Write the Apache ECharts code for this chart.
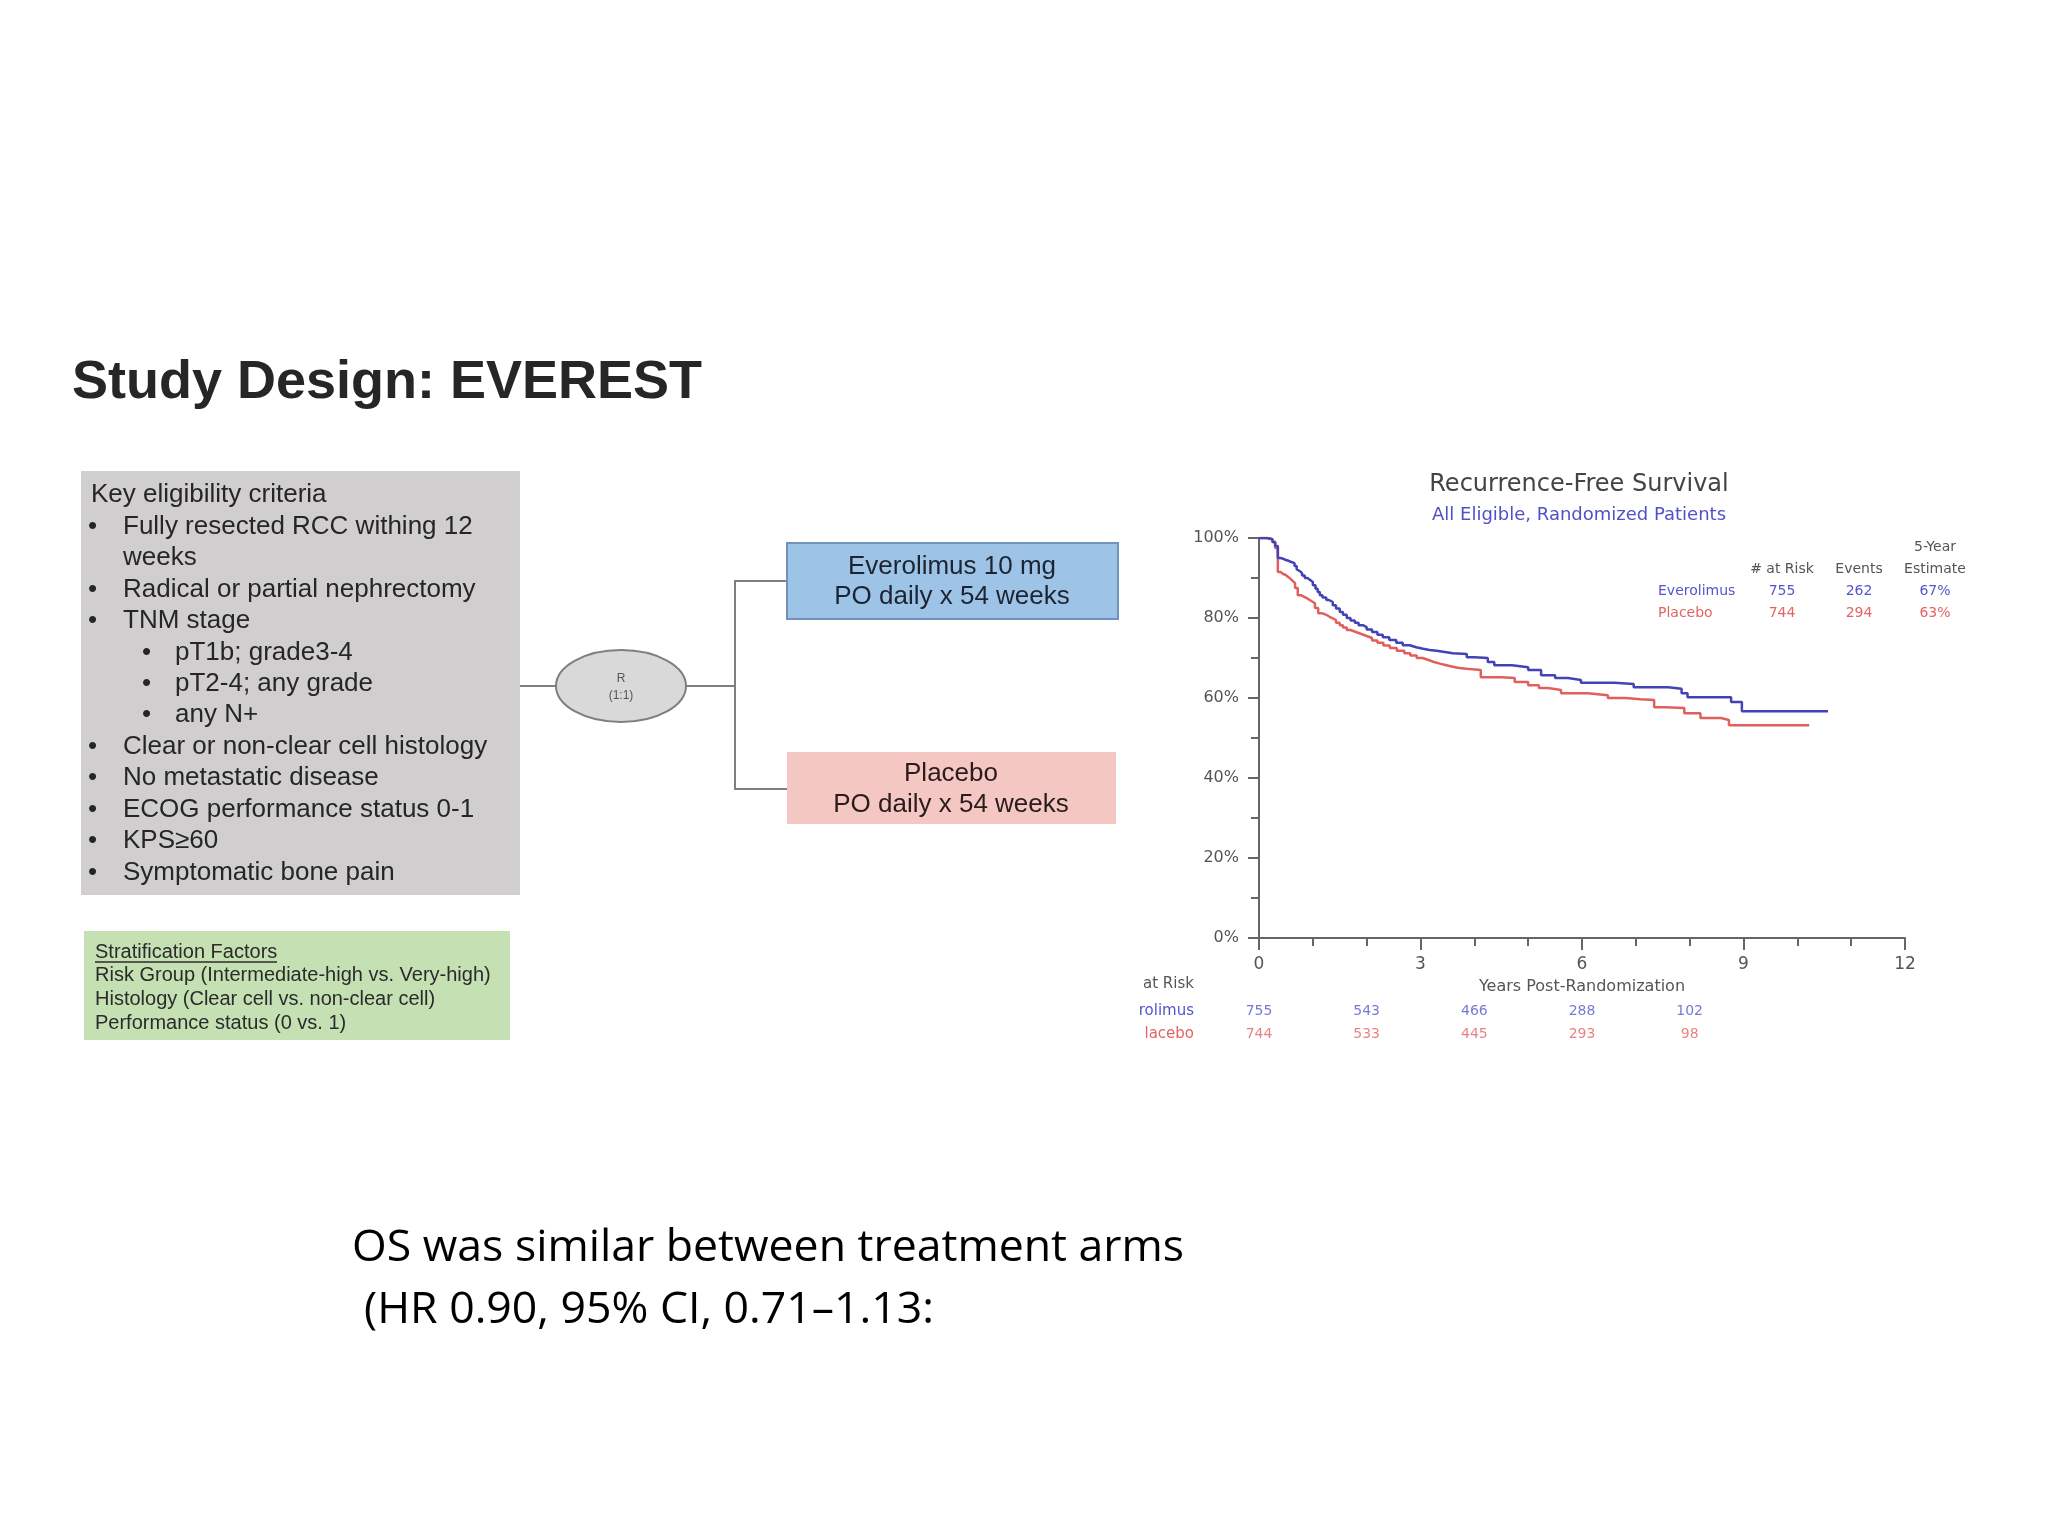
<!DOCTYPE html>
<html>
<head>
<meta charset="utf-8">
<title>Study Design: EVEREST</title>
<script src="https://cdn.jsdelivr.net/npm/echarts@6/dist/echarts.min.js"></script>
<style>
  html, body { margin: 0; padding: 0; background: #fff; }
  #main { width: 2048px; height: 1536px; }
</style>
</head>
<body>
<div id="main"></div>
<script>
// recurrence-free survival: [years, %]
const everolimusRFS = [
  [0, 100], [0.15, 99.7], [0.25, 99], [0.3, 98], [0.35, 95], [0.4, 94.8],
  [0.45, 94.5], [0.5, 94.3], [0.55, 94], [0.6, 93.7], [0.66, 93], [0.7, 92.2],
  [0.73, 91.7], [0.76, 91.2], [0.8, 90.6], [0.85, 90], [0.9, 89.5], [0.95, 89],
  [1.0, 88.2], [1.05, 87.3], [1.09, 86.5], [1.13, 85.7], [1.18, 85.1], [1.25, 84.5],
  [1.3, 84], [1.37, 83.2], [1.43, 82.4], [1.5, 81.5], [1.56, 80.8], [1.63, 80],
  [1.7, 79.4], [1.78, 78.8], [1.85, 78.2], [1.93, 77.7], [2.0, 77.1], [2.1, 76.5],
  [2.2, 75.8], [2.3, 75.2], [2.42, 74.5], [2.55, 73.8], [2.67, 73.2], [2.8, 72.7],
  [2.92, 72.3], [3.05, 72], [3.17, 71.8], [3.3, 71.5], [3.45, 71.2], [3.6, 71],
  [3.86, 70.2], [4.0, 70], [4.25, 69], [4.37, 68.2], [4.7, 67.7], [5.0, 67],
  [5.24, 65.7], [5.5, 65], [5.74, 64.5], [5.98, 63.8], [6.6, 63.5], [6.96, 62.7],
  [7.6, 62.3], [7.85, 61.2], [7.96, 60.2], [8.77, 59], [8.97, 56.7], [10.57, 56.7]
]
const placeboRFS = [
  [0, 100], [0.15, 99.7], [0.25, 99], [0.3, 97.5], [0.35, 91.5], [0.4, 91],
  [0.45, 90.7], [0.5, 90.2], [0.55, 89.7], [0.59, 89.2], [0.63, 88.7], [0.67, 87.5],
  [0.72, 85.7], [0.78, 85.2], [0.85, 84.7], [0.92, 84.2], [0.98, 83.7], [1.04, 82.5],
  [1.1, 81.2], [1.17, 80.8], [1.25, 80.3], [1.31, 79.9], [1.37, 79.5], [1.43, 78.8],
  [1.5, 78.2], [1.56, 77.6], [1.63, 77], [1.7, 76.5], [1.8, 76], [1.9, 75.5],
  [2.0, 75], [2.1, 74.4], [2.2, 73.8], [2.31, 73.1], [2.43, 72.5], [2.56, 71.8],
  [2.7, 71.2], [2.81, 70.6], [2.93, 70], [3.04, 69.5], [3.15, 69], [3.25, 68.6],
  [3.36, 68.2], [3.48, 67.8], [3.6, 67.5], [3.72, 67.3], [3.86, 67], [4.12, 65.2],
  [4.5, 65], [4.75, 64], [5.0, 63.2], [5.2, 62.5], [5.37, 62], [5.61, 61.2],
  [6.11, 60.7], [6.48, 60], [6.8, 59.7], [7.09, 59.5], [7.34, 57.7], [7.55, 57.5],
  [7.9, 56.2], [8.2, 55], [8.58, 54.5], [8.73, 53.2], [10.22, 53.2]
]

const armNames = ['Everolimus', 'Placebo']
const totalAtRisk = [755, 744]
const eventCounts = [262, 294]
const fiveYearEstimate = ['67%', '63%']

const riskTimes = [0, 2, 4, 6, 8]
const everolimusAtRisk = [755, 543, 466, 288, 102]
const placeboAtRisk = [744, 533, 445, 293, 98]
const riskRowLabels = ['rolimus', 'lacebo'] // cut off at the slide edge

const eligibility = [
  ['head', 'Key eligibility criteria'],
  ['b1', 'Fully resected RCC withing 12'],
  ['cont', 'weeks'],
  ['b1', 'Radical or partial nephrectomy'],
  ['b1', 'TNM stage'],
  ['b2', 'pT1b; grade3-4'],
  ['b2', 'pT2-4; any grade'],
  ['b2', 'any N+'],
  ['b1', 'Clear or non-clear cell histology'],
  ['b1', 'No metastatic disease'],
  ['b1', 'ECOG performance status 0-1'],
  ['b1', 'KPS≥60'],
  ['b1', 'Symptomatic bone pain']
]
const stratification = [
  'Stratification Factors',
  'Risk Group (Intermediate-high vs. Very-high)',
  'Histology (Clear cell vs. non-clear cell)',
  'Performance status (0 vs. 1)'
]

const ARIAL = '"Liberation Sans", Arial, sans-serif'
const CHART_FONT = '"DejaVu Sans", Verdana, sans-serif'
const BLUE = '#4343b8'
const RED = '#e0605e'
const BLUE_TXT = '#5656cc'
const RED_TXT = '#e26464'
const LINE_GREY = '#7f7f7f'

function txt(x, y, text, font, fill, align) {
  return {
    type: 'text', x: x, y: y, silent: true,
    style: { text: text, font: font, fill: fill, textAlign: align || 'left', textVerticalAlign: 'middle' }
  }
}
function seg(x1, y1, x2, y2, color, w) {
  return { type: 'line', silent: true, shape: { x1, y1, x2, y2 }, style: { stroke: color || LINE_GREY, lineWidth: w || 2 } }
}

const graphics = []

// slide title
graphics.push(txt(72, 383, 'Study Design: EVEREST', 'bold 54px ' + ARIAL, '#262626'))

// eligibility box
graphics.push({ type: 'rect', silent: true, shape: { x: 81, y: 471, width: 439, height: 424 }, style: { fill: '#d0cece' } })
eligibility.forEach(function (row, i) {
  const y = 495 + i * 31.47
  const f = '26px ' + ARIAL
  if (row[0] === 'head') graphics.push(txt(91, y, row[1], f, '#262626'))
  if (row[0] === 'cont') graphics.push(txt(123, y, row[1], f, '#262626'))
  if (row[0] === 'b1') {
    graphics.push(txt(88, y, '•', f, '#262626'))
    graphics.push(txt(123, y, row[1], f, '#262626'))
  }
  if (row[0] === 'b2') {
    graphics.push(txt(142, y, '•', f, '#262626'))
    graphics.push(txt(175, y, row[1], f, '#262626'))
  }
})

// stratification box
graphics.push({ type: 'rect', silent: true, shape: { x: 84, y: 931, width: 426, height: 109 }, style: { fill: '#c5e0b3' } })
stratification.forEach(function (s, i) {
  graphics.push(txt(95, 952 + i * 23.7, s, '20px ' + ARIAL, '#2b2b2b'))
})
graphics.push(seg(95, 962, 277, 962, '#2b2b2b', 1.5))

// randomisation flow
graphics.push(seg(520, 686, 556, 686))
graphics.push({ type: 'ellipse', silent: true, shape: { cx: 621, cy: 686, rx: 65, ry: 36 }, style: { fill: '#d9d9d9', stroke: LINE_GREY, lineWidth: 2 } })
graphics.push(txt(621, 679, 'R', '12px ' + ARIAL, '#555', 'center'))
graphics.push(txt(621, 696, '(1:1)', '12px ' + ARIAL, '#555', 'center'))
graphics.push(seg(686, 686, 735, 686))
graphics.push(seg(735, 581, 735, 789))
graphics.push(seg(734, 581, 787, 581))
graphics.push(seg(734, 789, 787, 789))

graphics.push({ type: 'rect', silent: true, shape: { x: 787, y: 543, width: 331, height: 76 }, style: { fill: '#9dc3e6', stroke: '#7193bb', lineWidth: 2 } })
graphics.push(txt(952, 567, 'Everolimus 10 mg', '26px ' + ARIAL, '#1c2433', 'center'))
graphics.push(txt(952, 597, 'PO daily x 54 weeks', '26px ' + ARIAL, '#1c2433', 'center'))
graphics.push({ type: 'rect', silent: true, shape: { x: 787, y: 752, width: 329, height: 72 }, style: { fill: '#f4c7c3' } })
graphics.push(txt(951, 774, 'Placebo', '26px ' + ARIAL, '#2a1c1c', 'center'))
graphics.push(txt(951, 805, 'PO daily x 54 weeks', '26px ' + ARIAL, '#2a1c1c', 'center'))

// KM legend table
graphics.push(txt(1935, 547, '5-Year', '14px ' + CHART_FONT, '#555', 'center'))
graphics.push(txt(1782, 569, '# at Risk', '14px ' + CHART_FONT, '#555', 'center'))
graphics.push(txt(1859, 569, 'Events', '14px ' + CHART_FONT, '#555', 'center'))
graphics.push(txt(1935, 569, 'Estimate', '14px ' + CHART_FONT, '#555', 'center'))
armNames.forEach(function (name, i) {
  const y = 591 + i * 22
  const c = i === 0 ? BLUE_TXT : RED_TXT
  graphics.push(txt(1658, y, name, '14px ' + CHART_FONT, c))
  graphics.push(txt(1782, y, String(totalAtRisk[i]), '14px ' + CHART_FONT, c, 'center'))
  graphics.push(txt(1859, y, String(eventCounts[i]), '14px ' + CHART_FONT, c, 'center'))
  graphics.push(txt(1935, y, fiveYearEstimate[i], '14px ' + CHART_FONT, c, 'center'))
})
graphics.push(txt(1143, 984, 'at Risk', '15px ' + CHART_FONT, '#555'))

// footnote
graphics.push(txt(352, 1248, 'OS was similar between treatment arms', '44.6px "Open Sans", sans-serif', '#000'))
graphics.push(txt(364, 1310, '(HR 0.90, 95% CI, 0.71–1.13:', '44.6px "Open Sans", sans-serif', '#000'))

const chart = echarts.init(document.getElementById('main'))

chart.setOption({
  animation: false,
  backgroundColor: '#fff',
  textStyle: { fontFamily: CHART_FONT },
  title: {
    text: 'Recurrence-Free Survival',
    subtext: 'All Eligible, Randomized Patients',
    left: 1574,
    top: 468,
    textAlign: 'center',
    itemGap: 9,
    textStyle: { fontSize: 24, fontWeight: 'normal', color: '#444', fontFamily: CHART_FONT },
    subtextStyle: { fontSize: 18, color: '#5050c8', fontFamily: CHART_FONT }
  },
  grid: [
    { left: 1259, top: 538, width: 646, height: 400 },
    { left: 1259, top: 1000, width: 646, height: 46 }
  ],
  xAxis: [
    {
      type: 'value', gridIndex: 0, min: 0, max: 12, interval: 3,
      name: 'Years Post-Randomization', nameLocation: 'middle', nameGap: 41,
      nameTextStyle: { fontSize: 16, color: '#555' },
      axisLine: { lineStyle: { color: '#666', width: 2 } },
      axisTick: { length: 12, lineStyle: { color: '#666', width: 2 } },
      minorTick: { show: true, splitNumber: 3, length: 8, lineStyle: { color: '#666', width: 2 } },
      axisLabel: { fontSize: 17, color: '#555', margin: 18 },
      splitLine: { show: false }
    },
    { type: 'value', gridIndex: 1, min: 0, max: 12, show: false }
  ],
  yAxis: [
    {
      type: 'value', gridIndex: 0, min: 0, max: 100, interval: 20,
      axisLine: { show: true, lineStyle: { color: '#666', width: 2 } },
      axisTick: { show: true, length: 11, lineStyle: { color: '#666', width: 2 } },
      minorTick: { show: true, splitNumber: 2, length: 8, lineStyle: { color: '#666', width: 2 } },
      axisLabel: { fontSize: 16, color: '#555', margin: 20, formatter: '{value}%' },
      splitLine: { show: false }
    },
    {
      type: 'category', gridIndex: 1, data: riskRowLabels, inverse: true,
      axisLine: { show: false }, axisTick: { show: false }, splitLine: { show: false },
      axisLabel: {
        margin: 65, fontSize: 15,
        color: function (v) { return v === riskRowLabels[0] ? BLUE_TXT : RED_TXT }
      }
    }
  ],
  series: [
    {
      name: armNames[0], type: 'line', step: 'end', data: everolimusRFS,
      showSymbol: false, lineStyle: { color: BLUE, width: 2.5 }, itemStyle: { color: BLUE }, z: 3
    },
    {
      name: armNames[1], type: 'line', step: 'end', data: placeboRFS,
      showSymbol: false, lineStyle: { color: RED, width: 2.5 }, itemStyle: { color: RED }, z: 2
    },
    {
      type: 'scatter', xAxisIndex: 1, yAxisIndex: 1, symbolSize: 1,
      itemStyle: { color: 'rgba(0,0,0,0)' },
      data: riskTimes.map(function (t, i) { return [t, 0, everolimusAtRisk[i]] }),
      label: { show: true, position: 'inside', fontSize: 14, color: BLUE_TXT, formatter: function (p) { return p.value[2] } }
    },
    {
      type: 'scatter', xAxisIndex: 1, yAxisIndex: 1, symbolSize: 1,
      itemStyle: { color: 'rgba(0,0,0,0)' },
      data: riskTimes.map(function (t, i) { return [t, 1, placeboAtRisk[i]] }),
      label: { show: true, position: 'inside', fontSize: 14, color: RED_TXT, formatter: function (p) { return p.value[2] } }
    }
  ],
  graphic: graphics
})
</script>
</body>
</html>
